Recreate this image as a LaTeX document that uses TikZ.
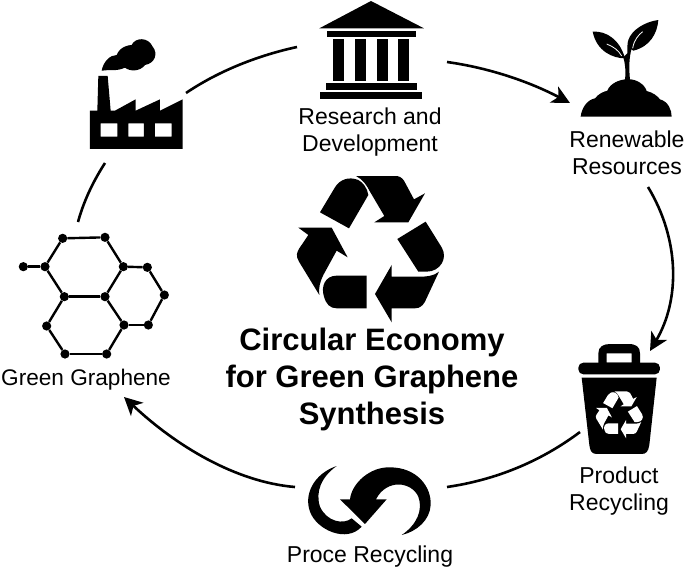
\documentclass[tikz,border=0pt]{standalone}
\usepackage{fontspec}
\setmainfont{Liberation Sans}
\usetikzlibrary{arrows.meta}
\tikzset{
  x=1pt,y=-1pt,
  lab/.style={font=\fontsize{23}{27}\selectfont,align=center,inner sep=0pt,text=black},
  ttl/.style={font=\bfseries\fontsize{31}{37}\selectfont,align=center,inner sep=0pt,text=black},
  conn/.style={line width=2.6pt,black},
  arr/.style={conn,-{Stealth[length=18pt,width=18pt,inset=5pt]}},
  atom/.style={circle,fill=black,inner sep=0pt,minimum size=9.2pt},
  bond/.style={line width=2.4pt,black},
}
\newcommand{\recyclesym}[1]{%
  \fill[#1] (120,157)--(165,82) .. controls (178,60) and (205,48) .. (235,60) .. controls (250,68) and (262,85) .. (265,105)--(207,205)--cycle;
  \fill[#1] (228,48)--(345,48) .. controls (358,48) and (365,52) .. (372,62)--(402,118)--(435,100)--(385,187)--(283,187)--(313,168)--(270,95) .. controls (260,75) and (248,58) .. (228,48)--cycle;
  \fill[#1] (352,237)--(437,185)--(485,262) .. controls (505,295) and (480,335) .. (440,335)--(415,335)--cycle;
  \fill[#1] (477,335) .. controls (462,348) and (440,350) .. (420,350)--(335,350)--(335,315)--(285,402)--(335,487)--(335,445)--(405,445) .. controls (420,445) and (428,437) .. (435,425)--cycle;
  \fill[#1] (260,347)--(170,347) .. controls (135,347) and (122,380) .. (132,410) .. controls (138,432) and (150,445) .. (170,445)--(260,445)--cycle;
  \fill[#1] (55,203)--(155,203)--(203,292)--(170,272)--(130,345) .. controls (120,365) and (115,385) .. (118,405)--(57,305) .. controls (47,288) and (50,278) .. (58,265)--(85,225)--cycle;
}
\begin{document}
\begin{tikzpicture}
\useasboundingbox (0,0) rectangle (685,570);
% central recycling symbol
\begin{scope}[shift={(280,160)},x=0.3333pt,y=-0.3333pt]
  \recyclesym{black}
\end{scope}
% bank
\begin{scope}[shift={(310,0)},x=0.3333pt,y=-0.3333pt]
  \fill (183,3)--(342,85)--(28,85)--cycle;
  \fill (50,92) rectangle (317,112);
  \foreach \c in {70,135,200,265}{\fill (\c,118) rectangle (\c+33,243);}
  \fill (48,250) rectangle (322,270);
  \fill (30,276) rectangle (335,296);
\end{scope}
% plant
\begin{scope}[shift={(570,20)},x=0.3333pt,y=-0.3333pt]
  \fill (32,290) .. controls (35,265) and (50,240) .. (75,235) .. controls (85,222) and (100,215) .. (112,212) .. controls (120,190) and (150,178) .. (170,178) .. controls (200,175) and (225,195) .. (230,213) .. controls (250,218) and (262,228) .. (270,238) .. controls (295,245) and (305,270) .. (305,290)--cycle;
  \fill (165,180) .. controls (168,150) and (165,130) .. (160,112)--(172,100) .. controls (172,80) and (172,70) .. (175,60)--(185,85) .. controls (178,110) and (176,140) .. (180,180)--cycle;
  \fill (68,35) .. controls (110,32) and (150,60) .. (165,115) .. controls (130,115) and (80,95) .. (68,35)--cycle;
  \fill (265,0) .. controls (225,5) and (185,30) .. (175,60) .. controls (172,75) and (180,88) .. (190,92) .. controls (240,80) and (262,40) .. (265,0)--cycle;
  \draw[white,line width=0.8pt] (110,72) .. controls (130,80) and (145,90) .. (155,108);
  \draw[white,line width=0.8pt] (218,35) .. controls (205,45) and (192,60) .. (188,85);
\end{scope}
% trash can
\begin{scope}[shift={(560,330)},x=0.3333pt,y=-0.3333pt]
  \fill[even odd rule] (115,100)--(115,70) .. controls (115,50) and (130,42) .. (150,42)--(205,42) .. controls (228,42) and (240,50) .. (240,70)--(240,100)--cycle
     (140,98)--(215,98)--(215,70)--(140,70)--cycle;
  \fill[rounded corners=5pt] (55,98) rectangle (300,133);
  \fill (65,143)--(290,143)--(268,345) .. controls (265,365) and (258,372) .. (245,372)--(110,372) .. controls (95,372) and (90,362) .. (88,345)--cycle;
  \begin{scope}[shift={(91,169)},x=0.1067pt,y=-0.1067pt]
    \recyclesym{white}
  \end{scope}
\end{scope}
% loop arrows
\begin{scope}[shift={(290,450)},x=0.3333pt,y=-0.3333pt]
  \fill (140,48) .. controls (75,70) and (40,130) .. (60,185) .. controls (80,240) and (170,280) .. (215,230)--(185,205) .. controls (160,225) and (110,215) .. (90,170) .. controls (75,125) and (95,80) .. (140,48)--cycle;
  \fill (150,148)--(180,148) .. controls (185,100) and (240,50) .. (300,52) .. controls (380,52) and (425,110) .. (422,165) .. controls (420,210) and (380,245) .. (335,255) .. controls (380,225) and (400,180) .. (385,140) .. controls (365,95) and (290,85) .. (258,148)--(290,148)--(225,222)--cycle;
\end{scope}
% factory
\begin{scope}[shift={(70,30)},x=0.3333pt,y=-0.3333pt]
  \fill[even odd rule] (60,357)--(60,242)--(82,242)--(85,138)--(113,138)--(122,242)--(135,242)--(197,208)--(197,242)--(270,208)--(270,242)--(338,208)--(338,357)--cycle
    (92,280) rectangle (142,320) (175,280) rectangle (222,320) (255,280) rectangle (305,320);
  \fill (95,122) .. controls (100,95) and (120,75) .. (140,75) .. controls (150,50) and (175,45) .. (185,45) .. controls (195,22) and (235,20) .. (248,50) .. controls (265,70) and (255,100) .. (225,105) .. controls (210,125) and (180,125) .. (165,113) .. controls (140,125) and (115,118) .. (95,122)--cycle;
\end{scope}
% graphene
\begin{scope}[shift={(0,220)}]
  \foreach \n/\px/\py in {a/188/55,b/315/52,c/370/140,d/315/230,e/193/230,f/135/140,g/70/140,h/442/142,i/493/225,j/445/315,k/372/315,l/320/402,m/195/402,n/140/318}
    {\node[atom] (\n) at (\px/3,\py/3) {};}
  \foreach \u/\v in {a/b,b/c,c/d,d/e,e/f,f/a,f/g,c/h,h/i,i/j,j/k,k/d,k/l,l/m,m/n,n/e}
    {\draw[bond] (\u) -- (\v);}
\end{scope}
% labels
\node[lab] (rd) at (370,132.5) {Research and\\Development};
\node[lab] (rr) at (627,152.5) {Renewable\\Resources};
\node[lab] (gg) at (86,380) {\fontsize{22.6}{27}\selectfont Green Graphene};
\node[lab] (pr) at (619,491) {Product\\Recycling};
\node[lab] (pc) at (370,557) {Proce Recycling};
\node[ttl] (title) at (372,379.5) {Circular Economy\\for Green Graphene\\Synthesis};
% connectors
\coordinate (p1) at (186,93); \coordinate (p2) at (297,47);
\coordinate (p3) at (447,62); \coordinate (p4) at (570,103);
\coordinate (p5) at (648,187); \coordinate (p6) at (650,351);
\coordinate (p7) at (447,487); \coordinate (p8) at (580,432);
\coordinate (p9) at (295,487); \coordinate (p10) at (124,397);
\coordinate (p11) at (78,222); \coordinate (p12) at (105,163);
\draw[conn] (p1) .. controls (220,70) and (260,55) .. (p2);
\draw[arr] (p3) .. controls (490,68) and (530,82) .. (p4);
\draw[arr] (p5) .. controls (680,240) and (680,300) .. (p6);
\draw[conn] (p7) .. controls (495,480) and (540,462) .. (p8);
\draw[arr] (p9) .. controls (235,482) and (175,445) .. (p10);
\draw[conn] (p11) .. controls (84,200) and (94,180) .. (p12);
\end{tikzpicture}
\end{document}
